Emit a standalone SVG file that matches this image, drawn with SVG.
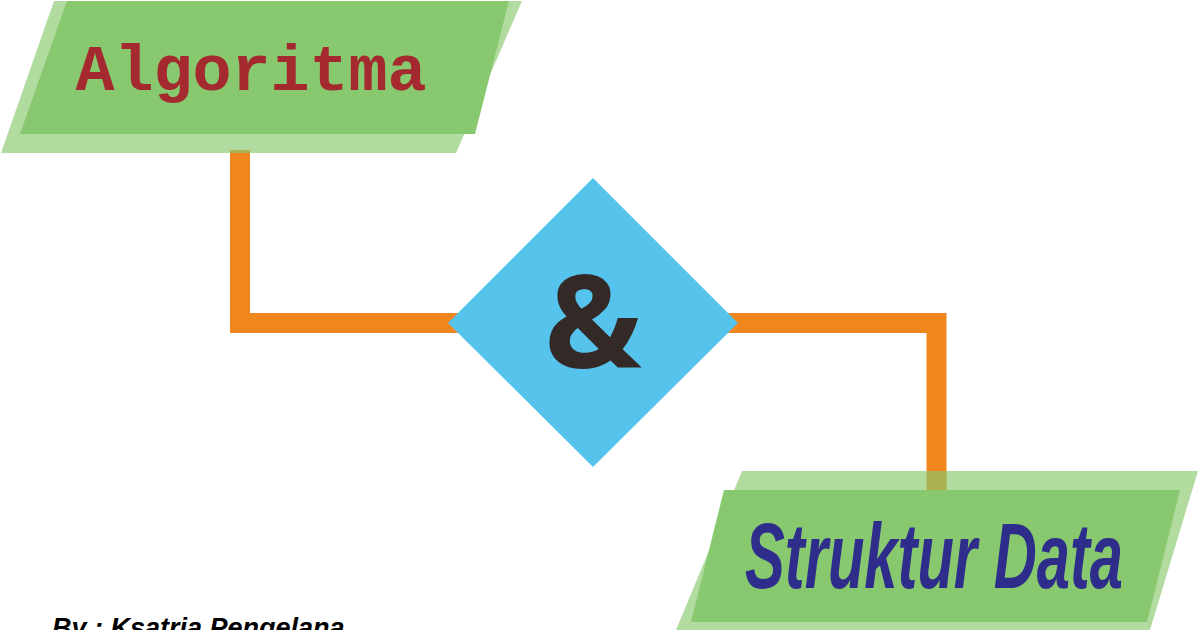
<svg xmlns="http://www.w3.org/2000/svg" width="1200" height="630" viewBox="0 0 1200 630">
  <style>
    .conn { fill: none; stroke: #f0871e; stroke-width: 20; stroke-linejoin: miter; stroke-linecap: butt; }
    .light { fill: #88c86e; fill-opacity: 0.66; }
    .dark { fill: #88c86e; }
    .diamond { fill: #55c3ec; }
  </style>
  <rect width="1200" height="630" fill="#ffffff"/>
  <g id="connectors">
    <path class="conn" d="M240,150 V323 H460"/>
    <path class="conn" d="M726,323 H936.5 V493"/>
  </g>
  <g id="node-algoritma">
    <polygon class="light" points="54,1 522,1 456,153 1,153"/>
    <polygon class="dark" points="67,1 509,1 475,134 20,134"/>
    <text x="251" y="90" text-anchor="middle" font-family="'Liberation Mono', 'Courier New', monospace" font-weight="bold" font-size="65" fill="#a52a30">Algoritma</text>
  </g>
  <g id="node-and">
    <polygon class="diamond" points="593,178 738,323 593,467 448,323"/>
    <text x="593" y="368" text-anchor="middle" font-family="'Open Sans', 'Liberation Sans', sans-serif" font-weight="bold" font-size="130" fill="#332a28">&amp;</text>
  </g>
  <g id="node-struktur">
    <polygon class="light" points="742,471 1198,471 1150,630 676,630"/>
    <polygon class="dark" points="724,490 1180,490 1147,622 691,622"/>
    <text x="745" y="588" textLength="378" lengthAdjust="spacingAndGlyphs" font-family="'Liberation Sans', Arial, sans-serif" font-weight="bold" font-style="italic" font-size="92" fill="#2e2d8c">Struktur Data</text>
  </g>
  <text x="52" y="637" font-family="'Liberation Sans', Arial, sans-serif" font-weight="bold" font-style="italic" font-size="27" fill="#000000">By : Ksatria Pengelana</text>
</svg>
